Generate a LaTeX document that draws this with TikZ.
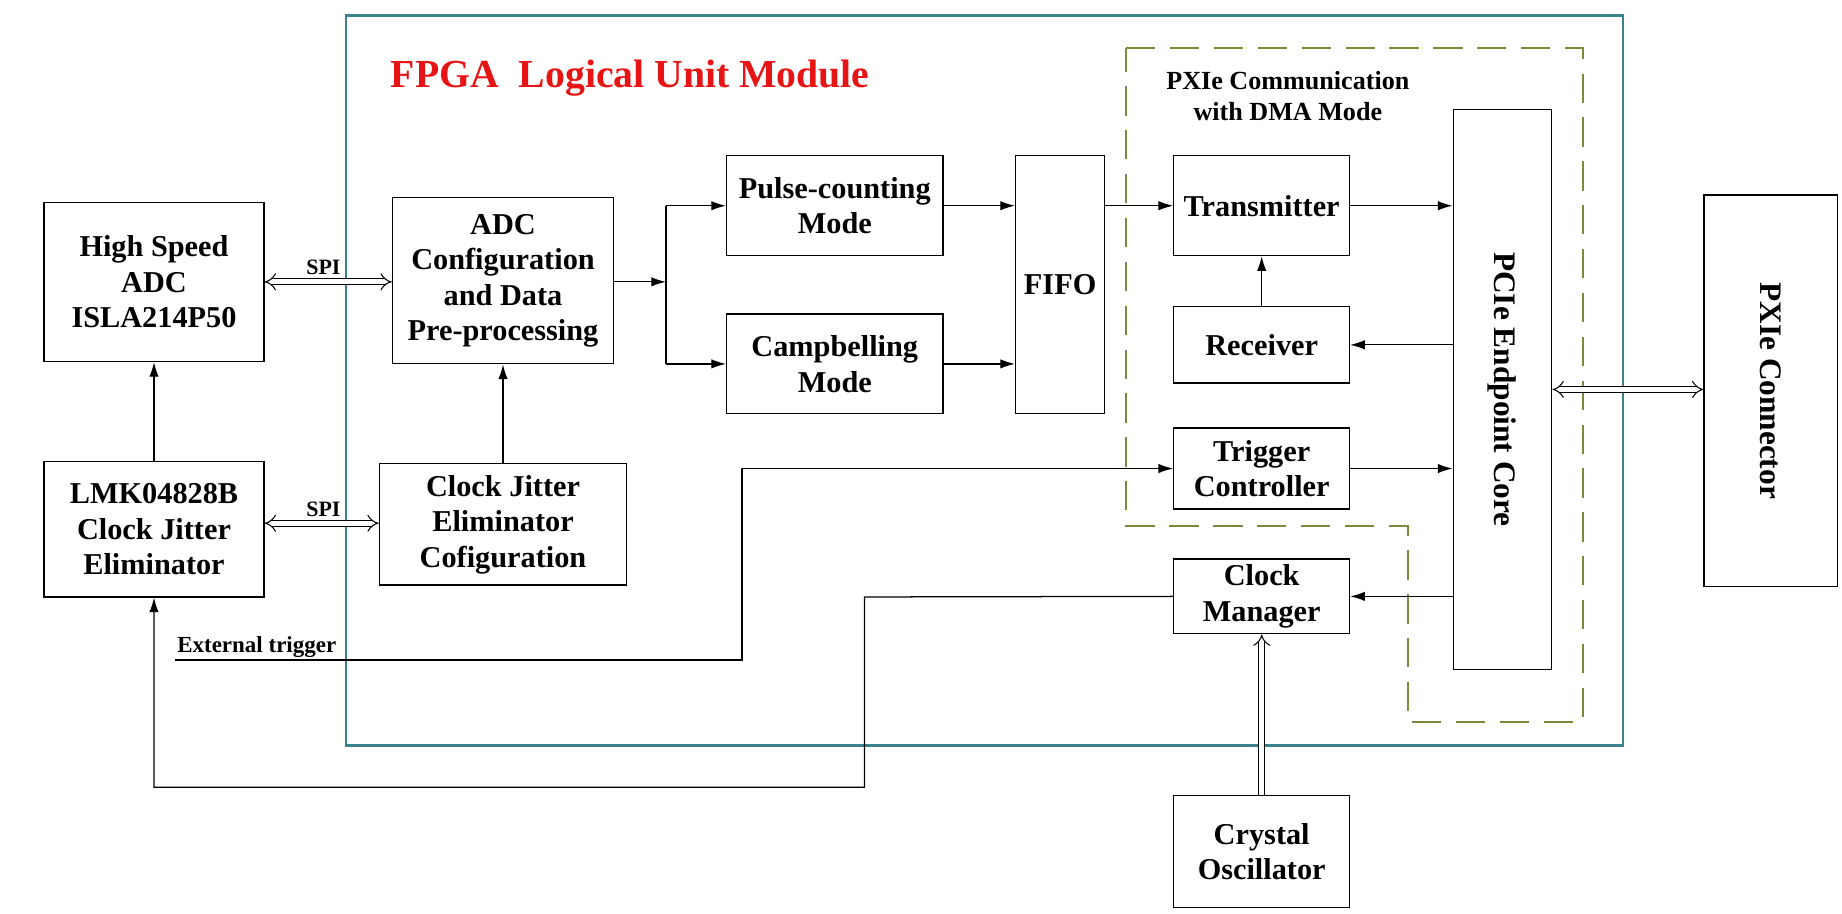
\documentclass[tikz,border=0pt]{standalone}
\usepackage{fontspec}
\setmainfont{Liberation Serif}
\usetikzlibrary{arrows.meta}
\begin{document}
\begin{tikzpicture}[x=0.02cm,y=-0.02cm,
  box/.style={draw,line width=0.6pt,font=\fontsize{14.5}{17}\selectfont\bfseries,align=center,inner sep=1pt},
  arr/.style={line width=0.6pt,-{Latex[length=7pt,width=4.5pt]}},
  dbl/.style={double,double distance=2.4pt,line width=0.5pt,{Implies}-{Implies}},
  dblone/.style={double,double distance=2.4pt,line width=0.5pt,-{Implies}}]
\useasboundingbox (0,0) rectangle (1549,768);
\draw[color={rgb,255:red,60;green,130;blue,140},line width=1.2pt] (291,13) rectangle (1365,627);
\draw[color={rgb,255:red,120;green,140;blue,60},line width=1pt,dash pattern=on 14pt off 7pt]
  (947,40) -- (1331,40) -- (1331,607) -- (1184,607) -- (1184,442) -- (947,442) -- cycle;
\node[text={rgb,255:red,230;green,20;blue,20},font=\fontsize{19}{22}\selectfont\bfseries] (title) at (530,66) {FPGA\ \ Logical Unit Module};
\node[font=\fontsize{12.5}{15}\selectfont\bfseries,align=center] (pxcomm) at (1083,81) {PXIe Communication\\with DMA Mode};
\node[box,minimum width=3.7cm,minimum height=2.68cm] (hsadc) at (129.5,237) {High Speed\\ADC\\ISLA214P50};
\node[box,minimum width=3.7cm,minimum height=2.28cm] (lmk) at (129.5,445) {LMK04828B\\Clock Jitter\\Eliminator};
\node[box,minimum width=3.72cm,minimum height=2.8cm] (adcc) at (423,236) {ADC\\Configuration\\and Data\\Pre-processing};
\node[box,minimum width=4.16cm,minimum height=2.04cm] (cjc) at (423,441) {Clock Jitter\\Eliminator\\Cofiguration};
\node[box,minimum width=3.64cm,minimum height=1.68cm] (pulse) at (702,173) {Pulse-counting\\Mode};
\node[box,minimum width=3.64cm,minimum height=1.68cm] (camp) at (702,306) {Campbelling\\Mode};
\node[box,minimum width=1.5cm,minimum height=4.34cm] (fifo) at (891.5,239.5) {FIFO};
\node[box,minimum width=2.96cm,minimum height=1.68cm] (tx) at (1061,173) {Transmitter};
\node[box,minimum width=2.96cm,minimum height=1.28cm] (rx) at (1061,290) {Receiver};
\node[box,minimum width=2.96cm,minimum height=1.36cm] (trig) at (1061,394) {Trigger\\Controller};
\node[box,minimum width=2.96cm,minimum height=1.26cm] (clk) at (1061,501.5) {Clock\\Manager};
\node[box,minimum width=1.66cm,minimum height=9.42cm] (pcie) at (1263.5,327.5) {};
\node[font=\fontsize{15}{17}\selectfont\bfseries,rotate=-90] (pcielbl) at (pcie.center) {PCIe Endpoint Core};
\node[box,minimum width=2.24cm,minimum height=6.58cm] (pxie) at (1489,328.5) {};
\node[font=\fontsize{15}{17}\selectfont\bfseries,rotate=-90] (pxielbl) at (pxie.center) {PXIe Connector};
\node[box,minimum width=2.96cm,minimum height=1.88cm] (crys) at (1061,716) {Crystal\\Oscillator};
% SPI links
\draw[dbl] (hsadc.east |- 0,237) -- (adcc.west |- 0,237);
\node[font=\fontsize{10.5}{12}\selectfont\bfseries] (spi1) at (272,225) {SPI};
\draw[dbl] (lmk.east |- 0,440) -- (cjc.west |- 0,440);
\node[font=\fontsize{10.5}{12}\selectfont\bfseries] (spi2) at (272,428) {SPI};
\draw[arr] (lmk.north) -- (hsadc.south);
\draw[arr] (cjc.north) -- (adcc.south);
% data path
\coordinate (br) at (560,237);
\draw[arr] (adcc.east |- br) -- (br);
\draw[line width=0.6pt] (560,173) -- (560,306);
\draw[arr] (560,173) -- (pulse.west);
\draw[arr] (560,306) -- (camp.west);
\draw[arr] (pulse.east) -- (pulse.east -| fifo.west);
\draw[arr] (camp.east) -- (camp.east -| fifo.west);
\draw[arr] (fifo.east |- tx.west) -- (tx.west);
\draw[arr] (tx.east) -- (tx.east -| pcie.west);
\draw[arr] (rx.north) -- (tx.south);
\draw[line width=0.4pt,-{Latex[length=7pt,width=4.5pt]}] (pcie.west |- rx.east) -- (rx.east);
\draw[arr] (trig.east) -- (trig.east -| pcie.west);
\draw[arr] (pcie.west |- clk.east) -- (clk.east);
\draw[dbl] (pcie.east) -- (pcie.east -| pxie.west);
\draw[dblone] (crys.north) -- (clk.south);
% external trigger
\coordinate (et) at (147,555);
\node[anchor=south west,font=\fontsize{11}{13}\selectfont\bfseries,inner sep=1pt] (etl) at (et) {External trigger};
\draw[arr] (et) -- (624,555) -- (624,394) -- (trig.west);
% clock return
\draw[arr] (clk.west) -- (727,502) -- (727,662) -- (lmk.south |- 0,662) -- (lmk.south);
\end{tikzpicture}
\end{document}
